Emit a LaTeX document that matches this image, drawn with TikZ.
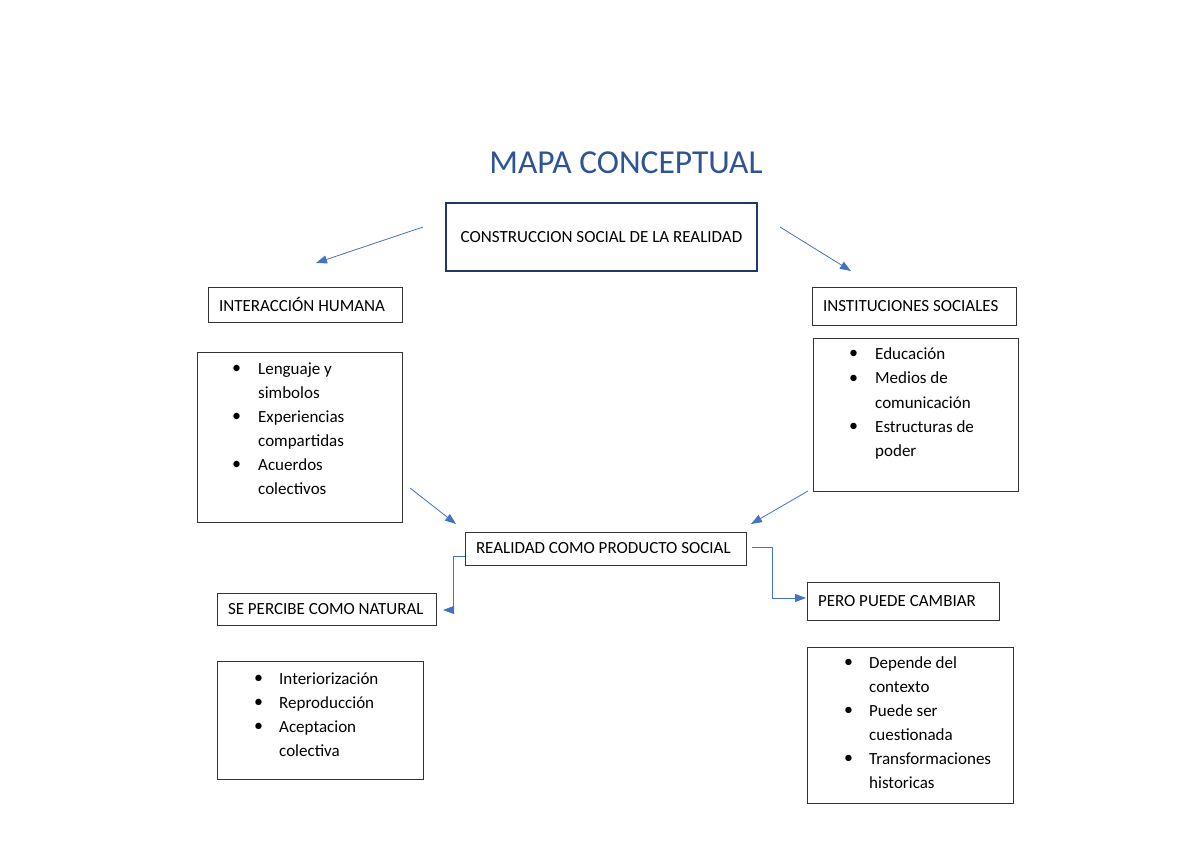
\documentclass[tikz,border=0pt]{standalone}
\usepackage{fontspec}
\setmainfont{Carlito}
\usetikzlibrary{arrows.meta}
\definecolor{titleblue}{HTML}{2F5496}
\definecolor{arrowblue}{HTML}{4472C4}
\definecolor{navy}{HTML}{203864}
\definecolor{boxgray}{HTML}{333333}
\newcommand{\bl}{\makebox[26pt][l]{\raisebox{0.5pt}{\fontsize{18}{18}\selectfont•}}}
\newcommand{\ind}{\hspace*{26pt}}
\newcommand{\blb}{\makebox[25pt][l]{\raisebox{0.5pt}{\fontsize{18}{18}\selectfont•}}}
\newcommand{\indb}{\hspace*{25pt}}
\tikzset{
  every node/.style={font=\fontsize{17}{24}\selectfont},
  headbox/.style={draw=boxgray, line width=0.9pt, inner xsep=11pt, inner ysep=0pt},
  listbox/.style={draw=boxgray, line width=0.9pt, inner sep=0pt},
  listtext/.style={anchor=north west, inner sep=0pt, align=left},
  conn/.style={draw=arrowblue, line width=0.8pt, -{Triangle[length=11pt,width=8pt]}},
}
\begin{document}
\begin{tikzpicture}[x=1pt,y=-1pt]
\useasboundingbox[fill=white] (0,0) rectangle (1200,849);

\node (title) at (626,163) {\fontsize{33.5}{36}\selectfont\color{titleblue}MAPA CONCEPTUAL};

\node[draw=navy, line width=1.6pt, minimum width=311pt, minimum height=68pt, inner sep=0pt] (csr) at (601.5,237) {CONSTRUCCION SOCIAL DE LA REALIDAD};

\node[headbox, minimum height=35pt] (ih) at (305,304.5) {\makebox[172pt][l]{INTERACCIÓN HUMANA}};
\node[listbox, minimum width=205pt, minimum height=170pt] (ihl) at (299.5,437) {};
\node[listtext] (ihlt) at (232,357.2) {\bl\strut Lenguaje y\\\ind\strut simbolos\\\bl\strut Experiencias\\\ind\strut compartidas\\\bl\strut Acuerdos\\\ind\strut colectivos};

\node[headbox, minimum height=38pt] (is) at (914,306) {\makebox[182pt][l]{INSTITUCIONES SOCIALES}};
\node[listbox, minimum width=205pt, minimum height=153pt] (isl) at (915.5,414.5) {};
\node[listtext, font=\fontsize{17}{24.3}\selectfont] (islt) at (849,342.2) {\bl\strut Educación\\\bl\strut Medios de\\\ind\strut comunicación\\\bl\strut Estructuras de\\\ind\strut poder};

\node[headbox, minimum height=33pt] (rps) at (605.5,548.5) {\makebox[259pt][l]{REALIDAD COMO PRODUCTO SOCIAL}};

\node[headbox, minimum height=32pt] (spn) at (326.5,609) {\makebox[197pt][l]{SE PERCIBE COMO NATURAL}};
\node[listbox, minimum width=206pt, minimum height=118pt] (spnl) at (320,720) {};
\node[listtext] (spnlt) at (254,667.2) {\blb\strut Interiorización\\\blb\strut Reproducción\\\blb\strut Aceptacion\\\indb\strut colectiva};

\node[headbox, minimum height=38pt] (ppc) at (903,601.5) {\makebox[170pt][l]{PERO PUEDE CAMBIAR}};
\node[listbox, minimum width=206pt, minimum height=156pt] (ppcl) at (910,725) {};
\node[listtext] (ppclt) at (844,651.2) {\blb\strut Depende del\\\indb\strut contexto\\\blb\strut Puede ser\\\indb\strut cuestionada\\\blb\strut Transformaciones\\\indb\strut historicas};

% connector end points
\coordinate (a1s) at (423,227);
\coordinate (a1e) at (316,263);
\coordinate (a2s) at (780,227);
\coordinate (a2e) at (851,271);
\coordinate (a3s) at (410,488);
\coordinate (a3e) at (456,524);
\coordinate (a4s) at (808,491);
\coordinate (a4e) at (751,524);
\coordinate (a5s) at (465,556);
\coordinate (a5e) at (443,610);
\coordinate (a6s) at (752,547);
\coordinate (a6e) at (806,598);

\draw[conn] (a1s) -- (a1e);
\draw[conn] (a2s) -- (a2e);
\draw[conn] (a3s) -- (a3e);
\draw[conn] (a4s) -- (a4e);
\draw[conn] (a5s) -- (453,556) -- (453,610) -- (a5e);
\draw[conn] (a6s) -- (772,547) -- (772,598) -- (a6e);
\end{tikzpicture}
\end{document}
